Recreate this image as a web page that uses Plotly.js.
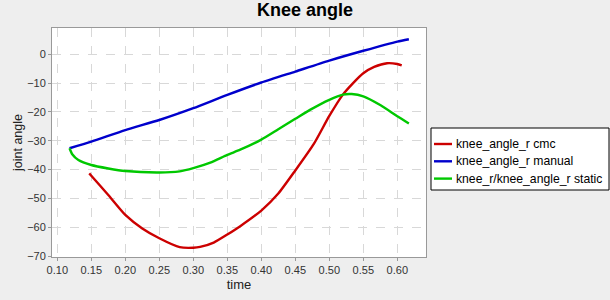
<!DOCTYPE html>
<html>
<head>
<meta charset="utf-8">
<script src="https://cdn.plot.ly/plotly-3.0.1.min.js"></script>
<style>html,body{margin:0;padding:0;background:#eeeeee;}#chart{width:610px;height:300px;}</style>
</head>
<body>
<div id="chart"></div>
<script>
// knee_angle_r cmc
const cmcTime  = [0.147,0.15,0.175,0.20,0.225,0.25,0.28,0.30,0.31,0.33,0.35,0.369,0.40,0.425,0.45,0.4775,0.50,0.52,0.535,0.55,0.566,0.585,0.60,0.6065];
const cmcAngle = [-41.3,-42.1,-48.8,-55.7,-60.4,-63.8,-66.9,-67.1,-66.8,-65.3,-62.5,-59.6,-54.2,-48.3,-40.3,-31.0,-21.4,-14.0,-10.0,-6.6,-4.4,-3.1,-3.4,-3.9];
// knee_angle_r manual
const manTime  = [0.118,0.15,0.20,0.25,0.30,0.35,0.40,0.45,0.50,0.55,0.60,0.617];
const manAngle = [-32.6,-30.3,-26.3,-22.8,-18.7,-14.1,-9.8,-6.0,-2.2,1.2,4.4,5.2];
// knee_r/knee_angle_r static
const staTime  = [0.118,0.122,0.131,0.15,0.175,0.20,0.25,0.28,0.30,0.325,0.35,0.369,0.40,0.425,0.45,0.4716,0.50,0.52,0.533,0.55,0.5755,0.60,0.617];
const staAngle = [-32.6,-34.7,-36.7,-38.4,-39.6,-40.5,-41.0,-40.6,-39.5,-37.6,-34.9,-33.1,-29.6,-26.0,-22.4,-19.3,-15.8,-14.0,-13.8,-14.6,-17.7,-21.5,-24.0];

const seriesNames = ['knee_angle_r cmc','knee_angle_r manual','knee_r/knee_angle_r static'];
const seriesColors = ['#cc0000','#0000cc','#00c800'];

const font = 'Liberation Sans, Arial, sans-serif';
const W = 610, H = 300;
const M = {l:52, r:184, t:28, b:43};
const PW = W - M.l - M.r, PH = H - M.t - M.b;
const px2x = p => (p - M.l) / PW;
const py2y = p => (H - M.b - p) / PH;

const mk = (x,y,i) => ({x:x, y:y, type:'scatter', mode:'lines', name:seriesNames[i], showlegend:false,
  line:{color:seriesColors[i], width:2.4, shape:'spline', smoothing:0.6}});

const data = [mk(cmcTime,cmcAngle,0), mk(manTime,manAngle,1), mk(staTime,staAngle,2)];

// legend box drawn as decoration
const shapes = [{type:'rect', xref:'paper', yref:'paper', x0:px2x(431), x1:px2x(609), y0:py2y(128), y1:py2y(190),
  line:{color:'#000000', width:1}, fillcolor:'#ffffff', layer:'above'}];
const annotations = [];
seriesNames.forEach((n,i) => {
  const yc = 144 + i*17.3;
  shapes.push({type:'line', xref:'paper', yref:'paper', x0:px2x(434), x1:px2x(452), y0:py2y(yc), y1:py2y(yc),
    line:{color:seriesColors[i], width:2.4}, layer:'above'});
  annotations.push({xref:'paper', yref:'paper', x:px2x(455), y:py2y(yc), xanchor:'left', yanchor:'middle',
    text:n, showarrow:false, borderpad:0, font:{family:font, size:12.2, color:'#000000'}});
});

const layout = {
  width:W, height:H,
  paper_bgcolor:'#eeeeee', plot_bgcolor:'#ffffff',
  margin:{l:M.l, r:M.r, t:M.t, b:M.b, pad:0, autoexpand:false},
  font:{family:font, size:11, color:'#333333'},
  title:{text:'<b>Knee angle</b>', x:0.5, xref:'container', y:0.99, yanchor:'top', yref:'container', font:{family:font, size:18, color:'#000000'}},
  xaxis:{range:[0.0922,0.6422], dtick:0.05, tick0:0.1, tickformat:'.2f',
    showgrid:true, gridcolor:'#d8d8d8', griddash:'dash', gridwidth:1,
    showline:true, linecolor:'#999999', linewidth:1, mirror:true,
    ticks:'outside', ticklen:3, tickcolor:'#999999', zeroline:false,
    tickfont:{family:font, size:11, color:'#333333'},
    title:{text:'time', font:{family:font, size:13, color:'#222222'}, standoff:4}},
  yaxis:{range:[-70.3,9.1], dtick:10, tick0:0,
    showgrid:true, gridcolor:'#d8d8d8', griddash:'dash', gridwidth:1,
    showline:true, linecolor:'#999999', linewidth:1, mirror:true,
    ticks:'outside', ticklen:3, tickcolor:'#999999', zeroline:false,
    tickfont:{family:font, size:11, color:'#333333'},
    title:{text:'joint angle', font:{family:font, size:12.5, color:'#222222'}, standoff:1}},
  showlegend:false,
  shapes:shapes,
  annotations:annotations
};

Plotly.newPlot('chart', data, layout, {displayModeBar:false, staticPlot:true});
</script>
</body>
</html>
